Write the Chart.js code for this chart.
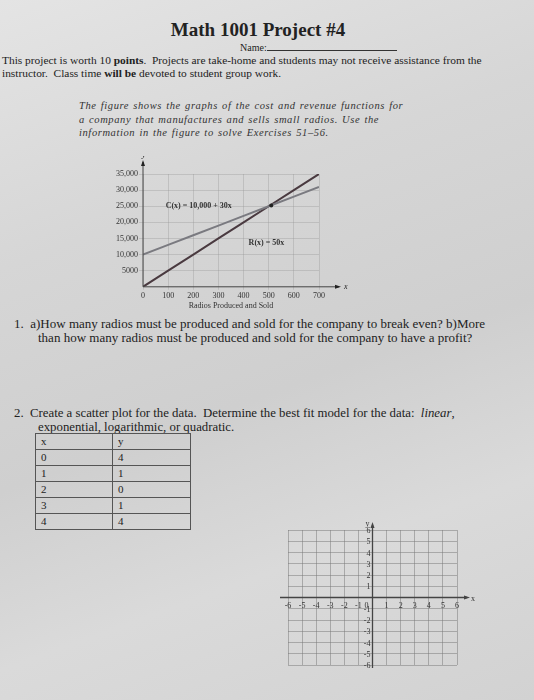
<!DOCTYPE html>
<html><head><meta charset="utf-8">
<script src="https://cdn.jsdelivr.net/npm/chart.js@4"></script>
<style>
html,body{margin:0;padding:0;}
body{width:534px;height:700px;position:relative;overflow:hidden;font-family:"Liberation Serif","DejaVu Serif",serif;color:#222;
background:linear-gradient(160deg,#e4e4e4 0%,#d6d6d6 30%,#cfcfcf 55%,#dadada 75%,#d2d2d2 100%);}
.t{position:absolute;white-space:nowrap;}
table{position:absolute;left:35px;top:433px;border-collapse:collapse;font-size:11px;}
td{border:1px solid #555;height:15px;padding:0 0 0 5px;line-height:15px;}
</style></head><body>
<div class="t" style="left:0;width:516px;top:19px;text-align:center;font-size:19px;font-weight:bold;">Math 1001 Project #4</div>
<div class="t" style="left:240px;top:42px;font-size:10px;">Name:<span style="display:inline-block;width:130px;border-bottom:1px solid #333;"></span></div>
<div class="t" style="left:2px;top:54px;font-size:11.4px;line-height:13px;">This project is worth 10 <b>points</b>.&nbsp; Projects are take-home and students may not receive assistance from the<br>instructor.&nbsp; Class time <b>will be</b> devoted to student group work.</div>
<div class="t" style="left:79px;top:99px;font-size:10.5px;line-height:13.5px;font-style:italic;color:#333;letter-spacing:0.6px;word-spacing:1px;">The figure shows the graphs of the cost and revenue functions for<br>a company that manufactures and sells small radios. Use the<br>information in the figure to solve Exercises 51–56.</div>
<div style="position:absolute;left:115px;top:156px;width:236px;height:155px;"><canvas id="c1"></canvas></div>
<div class="t" style="left:14px;top:317px;font-size:13px;line-height:14px;">1.&nbsp; a)How many radios must be produced and sold for the company to break even? b)More<br><span style="padding-left:24px"></span>than how many radios must be produced and sold for the company to have a profit?</div>
<div class="t" style="left:14px;top:406px;font-size:12.8px;line-height:14px;">2.&nbsp; Create a scatter plot for the data.&nbsp; Determine the best fit model for the data:&nbsp; <i>linear</i>,<br><span style="padding-left:24px"></span>exponential, logarithmic, or quadratic.</div>
<table id="tb"></table>
<div style="position:absolute;left:276px;top:520px;width:200px;height:155px;"><canvas id="c2"></canvas></div>
<script>
const xValues=[0,100,200,300,400,500,600,700];
const costValues=[10000,13000,16000,19000,22000,25000,28000,31000];
const revenueValues=[0,5000,10000,15000,20000,25000,30000,35000];
const yTicks=[5000,10000,15000,20000,25000,30000,35000];
const tableX=[0,1,2,3,4];
const tableY=[4,1,0,1,4];
const gridTicks=[-6,-5,-4,-3,-2,-1,0,1,2,3,4,5,6];

const tb=document.getElementById('tb');
let h='<tr><td style="width:71px">x</td><td style="width:72px">y</td></tr>';
tableX.forEach((v,i)=>{h+='<tr><td>'+v+'</td><td>'+tableY[i]+'</td></tr>';});
tb.innerHTML=h;

const serif='"Liberation Serif", serif';
const labels1={id:'l1',afterDatasetsDraw(ch){const c=ch.ctx,xs=ch.scales.x,ys=ch.scales.y;
 c.save();c.fillStyle='#333';c.font='bold 8px '+serif;
 c.fillText('C(x) = 10,000 + 30x',xs.getPixelForValue(90),ys.getPixelForValue(24300));
 c.fillText('R(x) = 50x',xs.getPixelForValue(420),ys.getPixelForValue(13000));
 c.fillStyle='#222';c.beginPath();c.arc(xs.getPixelForValue(510),ys.getPixelForValue(25200),2,0,7);c.fill();
 c.strokeStyle='#444';c.lineWidth=1;const x0=xs.getPixelForValue(0),y0=ys.getPixelForValue(0);
 c.beginPath();c.moveTo(x0,y0);c.lineTo(x0,ys.top-12);c.moveTo(x0,y0);c.lineTo(xs.right+20,y0);c.stroke();
 c.beginPath();c.moveTo(xs.right+22,y0);c.lineTo(xs.right+16,y0-2);c.lineTo(xs.right+16,y0+2);c.fill();
 c.beginPath();c.moveTo(x0,ys.top-14);c.lineTo(x0-2,ys.top-8);c.lineTo(x0+2,ys.top-8);c.fill();
 c.font='italic 8px '+serif;c.fillText('x',xs.right+25,y0+2);c.fillText('y',x0-1,ys.top-17);
 c.restore();}};
new Chart(document.getElementById('c1'),{type:'line',
 data:{labels:xValues,datasets:[
  {data:xValues.map((x,i)=>({x,y:costValues[i]})),borderColor:'#7a7a80',borderWidth:2,pointRadius:0},
  {data:xValues.map((x,i)=>({x,y:revenueValues[i]})),borderColor:'#4a3a40',borderWidth:2,pointRadius:0}]},
 options:{responsive:true,maintainAspectRatio:false,animation:false,
  layout:{padding:{top:18,right:32,left:0,bottom:0}},
  plugins:{legend:{display:false},tooltip:{enabled:false}},
  scales:{x:{type:'linear',min:0,max:700,ticks:{stepSize:100,color:'#333',padding:1,font:{size:8,family:serif}},grid:{color:'rgba(150,150,150,0.35)',drawTicks:true,tickLength:3},border:{display:false},
     title:{display:true,text:'Radios Produced and Sold',color:'#333',font:{size:8,family:serif},padding:0}},
   y:{min:0,max:35000,afterBuildTicks(s){s.ticks=yTicks.map(v=>({value:v}));},ticks:{color:'#333',padding:1,font:{size:8,family:serif},callback:v=>v>=10000?v.toLocaleString('en-US'):String(v)},grid:{color:'rgba(150,150,150,0.35)',tickLength:4},border:{display:false}}}},
 plugins:[labels1]});

const labels2={id:'l2',afterDatasetsDraw(ch){const c=ch.ctx,xs=ch.scales.x,ys=ch.scales.y;
 const x0=xs.getPixelForValue(0),y0=ys.getPixelForValue(0);
 c.save();c.strokeStyle='#444';c.fillStyle='#444';c.lineWidth=1.3;
 c.beginPath();c.moveTo(xs.left-8,y0);c.lineTo(xs.right+10,y0);c.moveTo(x0,ys.bottom+3);c.lineTo(x0,ys.top-5);c.stroke();
 c.beginPath();c.moveTo(xs.right+13,y0);c.lineTo(xs.right+7,y0-2);c.lineTo(xs.right+7,y0+2);c.fill();
 c.beginPath();c.moveTo(x0,ys.top-8);c.lineTo(x0-2,ys.top-2);c.lineTo(x0+2,ys.top-2);c.fill();
 c.font='8px '+serif;c.fillStyle='#333';c.textAlign='center';
 gridTicks.forEach(v=>{if(v!==0){c.fillText(String(v),xs.getPixelForValue(v),y0+10);c.textAlign='right';c.fillText(String(v),x0-2,ys.getPixelForValue(v)+3);c.textAlign='center';}});
 c.fillText('0',x0-6,y0+10);c.fillText('x',xs.right+16,y0+3);c.fillText('y',x0-5,ys.top-4);
 c.restore();}};
new Chart(document.getElementById('c2'),{type:'scatter',data:{datasets:[{data:[]}]},
 options:{responsive:true,maintainAspectRatio:false,animation:false,
  layout:{padding:{top:10,right:19,left:12,bottom:10}},
  plugins:{legend:{display:false},tooltip:{enabled:false}},
  scales:{x:{min:-6,max:6,afterBuildTicks(s){s.ticks=gridTicks.map(v=>({value:v}));},ticks:{display:false},grid:{color:'rgba(120,120,120,0.5)',drawTicks:false},border:{display:false}},
   y:{min:-6,max:6,afterBuildTicks(s){s.ticks=gridTicks.map(v=>({value:v}));},ticks:{display:false},grid:{color:'rgba(120,120,120,0.5)',drawTicks:false},border:{display:false}}}},
 plugins:[labels2]});
</script></body></html>
